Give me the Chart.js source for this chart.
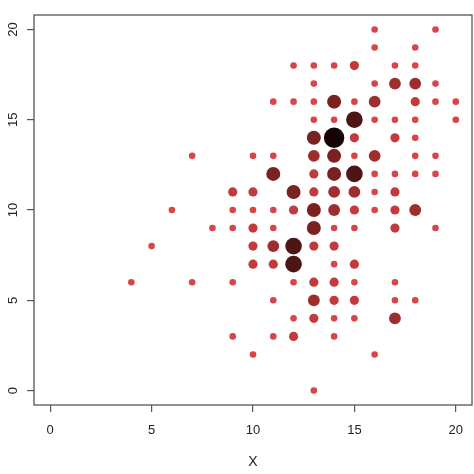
<!DOCTYPE html>
<html>
<head>
<meta charset="utf-8">
<script src="https://cdn.jsdelivr.net/npm/chart.js@4/dist/chart.umd.min.js"></script>
<style>
  html, body { margin: 0; padding: 0; background: #fff; overflow: hidden; }
  #wrap { width: 474px; height: 474px; }
  canvas { display: block; }
</style>
</head>
<body>
<div id="wrap"><canvas id="chart" width="474" height="474"></canvas></div>
<script>
;(function () {

    // ── Dados ─────────────────────────────────────────────────────────────────
    // Cada ponto: coordenada (x, y) e quantas observações caem nele.

    const PX = [16, 19,
                16, 18,
                12, 13, 14, 15, 17, 18,
                13, 16, 17, 18, 19,
                11, 12, 13, 14, 15, 16, 18, 19, 20,
                13, 14, 15, 16, 17, 18, 20,
                13, 14, 15, 17, 18,
                7, 10, 11, 13, 14, 15, 16, 18, 19,
                11, 13, 14, 15, 16, 17, 18, 19,
                9, 10, 12, 13, 14, 15, 16, 17,
                6, 9, 10, 11, 12, 13, 14, 15, 16, 17, 18,
                8, 9, 10, 11, 13, 14, 15, 17, 19,
                5, 10, 11, 12, 13, 14,
                10, 11, 12, 14, 15,
                4, 7, 9, 12, 13, 14, 15, 17,
                11, 13, 14, 15, 17, 18,
                12, 13, 14, 15, 17,
                9, 11, 12, 14,
                10, 16,
                13];

    const PY = [20, 20,
                19, 19,
                18, 18, 18, 18, 18, 18,
                17, 17, 17, 17, 17,
                16, 16, 16, 16, 16, 16, 16, 16, 16,
                15, 15, 15, 15, 15, 15, 15,
                14, 14, 14, 14, 14,
                13, 13, 13, 13, 13, 13, 13, 13, 13,
                12, 12, 12, 12, 12, 12, 12, 12,
                11, 11, 11, 11, 11, 11, 11, 11,
                10, 10, 10, 10, 10, 10, 10, 10, 10, 10, 10,
                9, 9, 9, 9, 9, 9, 9, 9, 9,
                8, 8, 8, 8, 8, 8,
                7, 7, 7, 7, 7,
                6, 6, 6, 6, 6, 6, 6, 6,
                5, 5, 5, 5, 5, 5,
                4, 4, 4, 4, 4,
                3, 3, 3, 3,
                2, 2,
                0];

    const CONTAGEM = [1, 1,
                      1, 1,
                      1, 1, 1, 2, 1, 1,
                      1, 1, 3, 3, 1,
                      1, 1, 1, 4, 1, 3, 2, 1, 1,
                      1, 1, 5, 1, 1, 1, 1,
                      4, 7, 2, 2, 1,
                      1, 1, 1, 3, 4, 1, 3, 1, 1,
                      4, 2, 4, 5, 1, 1, 1, 1,
                      2, 2, 4, 2, 3, 3, 1, 2,
                      1, 1, 1, 1, 2, 4, 3, 2, 1, 2, 3,
                      1, 1, 2, 1, 4, 1, 1, 2, 1,
                      1, 2, 3, 5, 2, 2,
                      2, 2, 5, 1, 2,
                      1, 1, 1, 1, 2, 2, 1, 1,
                      1, 3, 2, 2, 1, 1,
                      1, 2, 1, 1, 3,
                      1, 1, 2, 1,
                      1, 1,
                      1];

    const X_TICKS = [0, 5, 10, 15, 20];
    const Y_TICKS = [0, 5, 10, 15, 20];
    const X_TITULO = "X";

    // ── Estilo ────────────────────────────────────────────────────────────────

    const RAIO = { 1: 3.3, 2: 4.6, 3: 5.9, 4: 7.0, 5: 8.3, 6: 9.2, 7: 10.2 };
    const COR  = { 1: "#d8444a", 2: "#c23a3c", 3: "#9e2d2e", 4: "#7a2222",
                   5: "#4e1515", 6: "#2e0b0b", 7: "#160404" };
    const EIXO = "#555";
    const FONTE = "'Liberation Sans', Arial, sans-serif";

    const pontos = PX.map((x, i) => ({ x, y: PY[i], r: RAIO[CONTAGEM[i]] }));

    // moldura em volta da área do gráfico (estilo R)
    const moldura = {
        id: "moldura",
        afterDraw(chart) {
            const { ctx, chartArea: a } = chart;
            ctx.save();
            ctx.strokeStyle = EIXO;
            ctx.lineWidth = 1.3;
            ctx.strokeRect(a.left, a.top, a.right - a.left, a.bottom - a.top);
            ctx.restore();
        }
    };

    new Chart(document.getElementById("chart"), {
        type: "bubble",
        data: {
            datasets: [{
                data: pontos,
                backgroundColor: ctx => COR[CONTAGEM[ctx.dataIndex]],
                borderWidth: 0,
                hoverBorderWidth: 0
            }]
        },
        options: {
            responsive: false,
            animation: false,
            // sem autoPadding o raio das bolhas não empurra a área do gráfico
            layout: { autoPadding: false, padding: { top: 15, right: 2, left: 0, bottom: 0 } },
            plugins: { legend: { display: false }, tooltip: { enabled: false } },
            scales: {
                x: {
                    type: "linear",
                    min: -0.8,
                    max: 20.8,
                    afterBuildTicks: s => { s.ticks = X_TICKS.map(v => ({ value: v })); },
                    afterFit: s => { s.height = 69; s.paddingLeft = 0; s.paddingRight = 0; },
                    grid: { drawOnChartArea: false, drawTicks: true, tickLength: 7, color: EIXO, lineWidth: 1.2 },
                    border: { display: false },
                    ticks: { color: "#222", font: { family: FONTE, size: 13 }, padding: 11, maxRotation: 0 },
                    title: { display: true, text: X_TITULO, color: "#222", font: { family: FONTE, size: 14 }, padding: { top: 4, bottom: 3 } }
                },
                y: {
                    type: "linear",
                    min: -0.8,
                    max: 20.8,
                    afterBuildTicks: s => { s.ticks = Y_TICKS.map(v => ({ value: v })); },
                    afterFit: s => { s.width = 34; s.paddingTop = 0; s.paddingBottom = 0; },
                    grid: { drawOnChartArea: false, drawTicks: true, tickLength: 7, color: EIXO, lineWidth: 1.2 },
                    border: { display: false },
                    ticks: { color: "#222", font: { family: FONTE, size: 13 }, padding: 6,
                             minRotation: 90, maxRotation: 90, crossAlign: "center" }
                }
            }
        },
        plugins: [moldura]
    });

})();
</script>
</body>
</html>
